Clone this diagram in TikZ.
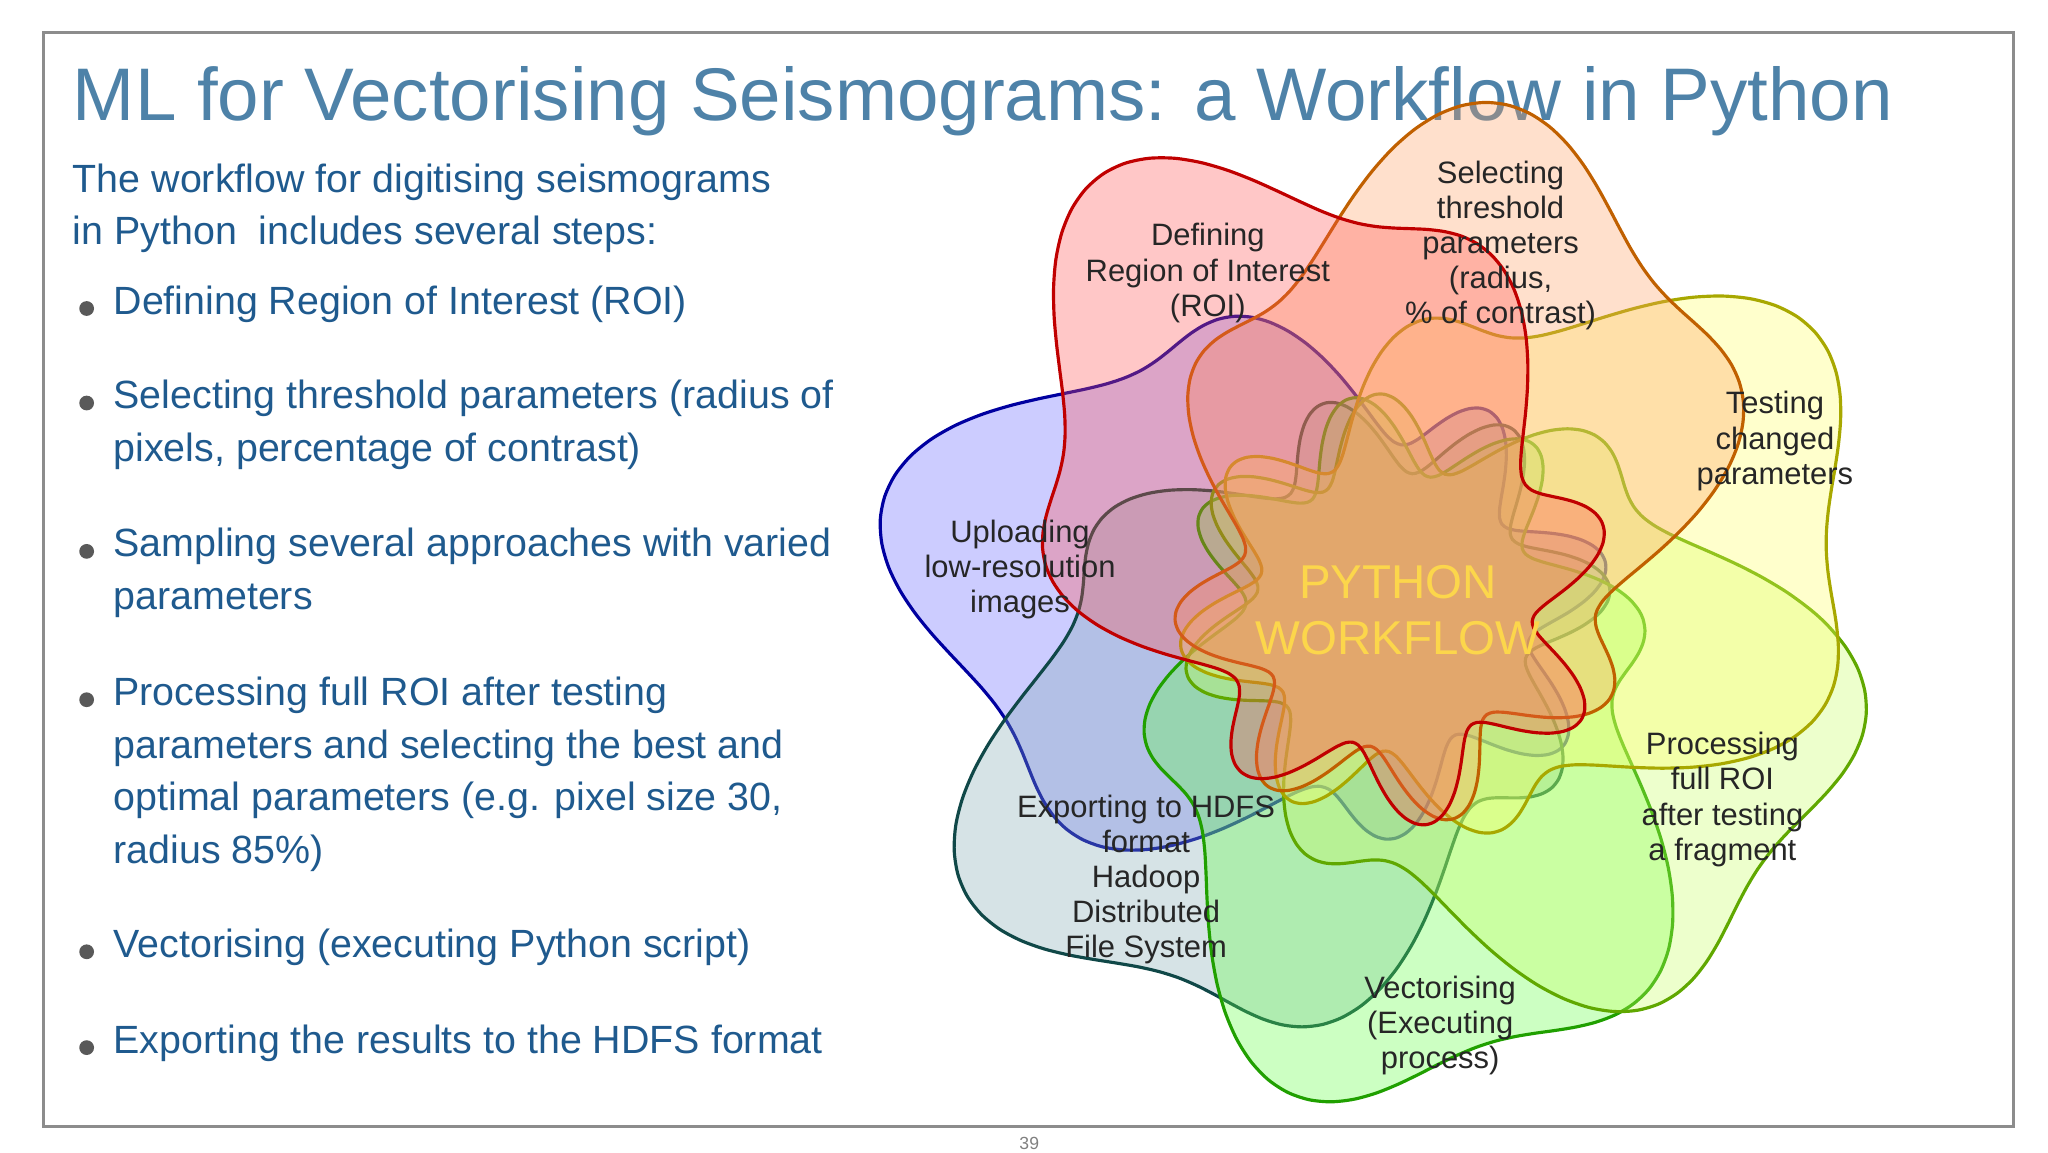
\documentclass[tikz,border=0pt]{standalone}
\usepackage{fontspec}
\setmainfont{Liberation Sans}
\definecolor{ttl}{HTML}{4E82A8}
\definecolor{bod}{HTML}{1F5A8E}
\tikzset{
 petal/.style={line width=0.9pt,fill opacity=0.32},
 lbl/.style={align=center,font=\fontsize{8.8}{10}\selectfont,text=black!85},
 bl/.style={anchor=north west,inner sep=0pt,font=\fontsize{11.2}{15}\selectfont,text=bod,align=left},
 dot/.style={circle,fill=black!65,inner sep=0pt,minimum size=4.2pt}
}
\begin{document}
\begin{tikzpicture}[x=0.013128cm,y=-0.013128cm]
\useasboundingbox (0,0) rectangle (1560,878);
\draw[black!45,line width=0.8pt] (33,25) rectangle (1534,858);
\node[font=\tiny,text=black!50] (pg) at (784,871) {39};
\node[anchor=base west,inner sep=0pt,font=\fontsize{21.2}{24}\selectfont,text=ttl] (title) at (55,92) {ML for Vectorising Seismograms: a Workflow in Python};
\node[bl] (intro) at (55,124) {The workflow for digitising seismograms\\in Python\ \ includes several steps:};
\foreach \y/\t [count=\i] in {245/{Defining Region of Interest (ROI)},
 317/{Selecting threshold parameters (radius of\\pixels, percentage of contrast)},
 430/{Sampling several approaches with varied\\parameters},
 543/{Processing full ROI after testing\\parameters and selecting the best and\\optimal parameters (e.g. pixel size 30,\\radius 85\%)},
 735/{Vectorising (executing Python script)},
 808/{Exporting the results to the HDFS format}}{
 \node[bl] (b\i) at (86,\y-28) {\t};
 \node[dot] (d\i) at (66,\y-10) {};
}
\begin{scope}[shift={(1062,465)},x=0.013128cm,y=0.013128cm]
\foreach \a/\ph/\fc/\dc in {173/0/6060FF/0000A0, 224/50/7FA8B0/104848, 276/100/60FF40/20A000, 327/150/C8FF60/60A800, 19/200/FFFF60/A8A800, 70/250/FFA060/C06000, 122/300/FF5050/C00000}{
 \definecolor{fc}{HTML}{\fc}\definecolor{dc}{HTML}{\dc}
 \filldraw[petal,fill=fc,draw=dc] plot[domain=0:358,samples=140,smooth cycle,variable=\t]
  (\t:{135+235*pow((1+cos(\t-\a))/2,4)+30*sin(7*\t+\ph)});
}
\end{scope}
\node[align=center,font=\fontsize{13.5}{16}\selectfont,text=yellow!60!orange!70!white] (c) at (1065,465) {PYTHON\\WORKFLOW};
\node[lbl] (l1) at (920,208) {Defining\\Region of Interest\\(ROI)};
\node[lbl] (l2) at (1143,187) {Selecting\\threshold\\parameters\\(radius,\\\% of contrast)};
\node[lbl] (l3) at (1352,336) {Testing\\changed\\parameters};
\node[lbl] (l4) at (777,434) {Uploading\\low-resolution\\images};
\node[lbl] (l5) at (1312,609) {Processing\\full ROI\\after testing\\a fragment};
\node[lbl] (l6) at (873,670) {Exporting to HDFS\\format\\Hadoop\\Distributed\\File System};
\node[lbl] (l7) at (1097,781) {Vectorising\\(Executing\\process)};
\end{tikzpicture}
\end{document}
